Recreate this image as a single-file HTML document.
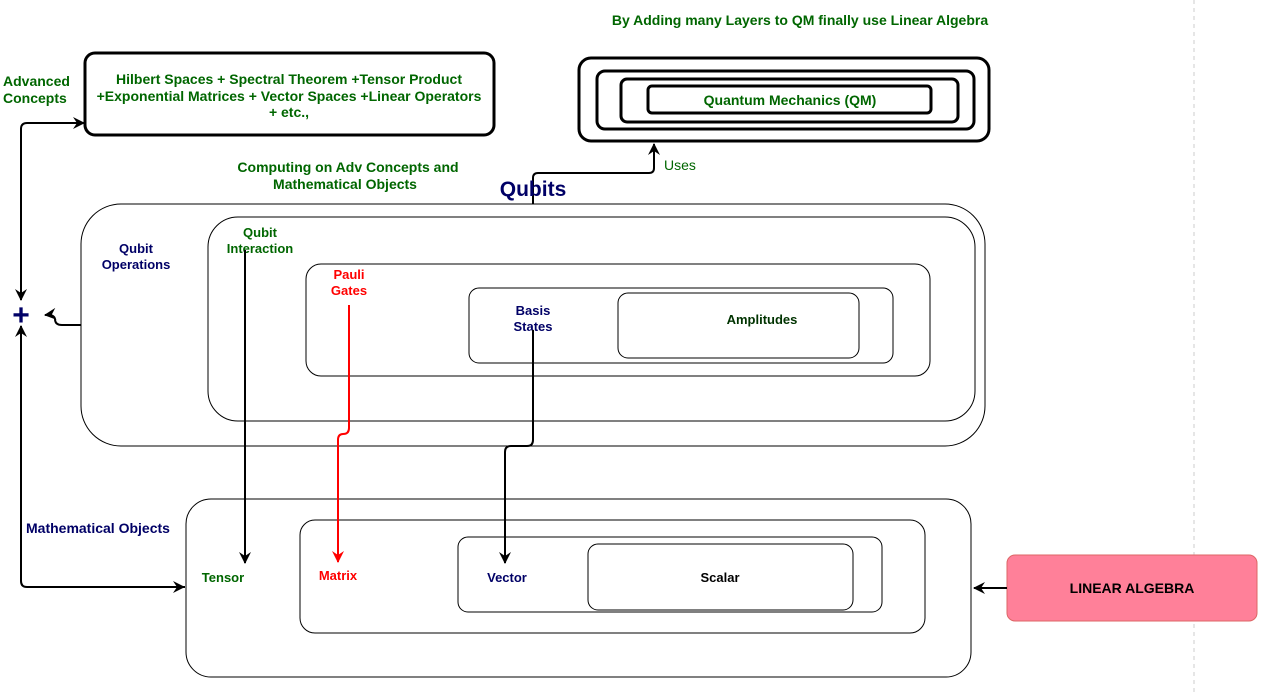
<!DOCTYPE html>
<html><head><meta charset="utf-8"><style>html,body{margin:0;padding:0;background:#fff;}svg{display:block;}</style></head>
<body>
<svg width="1264" height="696" viewBox="0 0 1264 696" xmlns="http://www.w3.org/2000/svg" font-family="Liberation Sans, sans-serif" font-weight="bold">
<defs>
<marker id="a" markerWidth="14" markerHeight="14" refX="11" refY="7" orient="auto" markerUnits="userSpaceOnUse"><path d="M0,1 L12,7 L0,13 L4,7 z" fill="#000"/></marker>
<marker id="r" markerWidth="14" markerHeight="14" refX="11" refY="7" orient="auto" markerUnits="userSpaceOnUse"><path d="M0,1 L12,7 L0,13 L4,7 z" fill="#f00"/></marker>
</defs>
<line x1="1194" y1="0" x2="1194" y2="696" stroke="#ccc" stroke-dasharray="4,4"/>
<text x="800" y="25" fill="#006600" font-size="14" text-anchor="middle">By Adding many Layers to QM finally use Linear Algebra</text>
<rect x="85" y="53" width="409" height="82" rx="10" fill="none" stroke="#000" stroke-width="3"/>
<g fill="#006600" font-size="14" text-anchor="middle"><text x="289" y="84">Hilbert Spaces + Spectral Theorem +Tensor Product</text><text x="289" y="101">+Exponential Matrices + Vector Spaces +Linear Operators</text><text x="289" y="117">+ etc.,</text></g>
<g fill="#006600" font-size="14"><text x="3" y="86">Advanced</text><text x="3" y="103">Concepts</text></g>
<rect x="579" y="58" width="410" height="83" rx="12" fill="none" stroke="#000" stroke-width="3"/>
<rect x="597" y="71" width="377" height="58" rx="8" fill="none" stroke="#000" stroke-width="3"/>
<rect x="621" y="79" width="337" height="43" rx="6" fill="none" stroke="#000" stroke-width="3"/>
<rect x="648" y="86" width="283" height="27" rx="4" fill="none" stroke="#000" stroke-width="3"/>
<text x="790" y="105" fill="#006600" font-size="14" text-anchor="middle">Quantum Mechanics (QM)</text>
<path d="M533,204 V178 Q533,173 538,173 H649 Q654,173 654,168 V144" fill="none" stroke="#000" stroke-width="2" marker-end="url(#a)"/>
<text x="664" y="170" fill="#006600" font-size="14" font-weight="normal">Uses</text>
<g fill="#006600" font-size="14" text-anchor="middle"><text x="348" y="172">Computing on Adv Concepts and</text><text x="345" y="189">Mathematical Objects</text></g>
<text x="533" y="196" fill="#000066" font-size="21" text-anchor="middle">Qubits</text>
<rect x="81" y="204" width="904" height="242" rx="40" fill="none" stroke="#000"/>
<rect x="208" y="217" width="767" height="204" rx="30" fill="none" stroke="#000"/>
<rect x="306" y="264" width="624" height="112" rx="15" fill="none" stroke="#000"/>
<rect x="469" y="288" width="424" height="75" rx="10" fill="none" stroke="#000"/>
<rect x="618" y="293" width="241" height="65" rx="10" fill="none" stroke="#000"/>
<g font-size="13" text-anchor="middle">
<text x="136" y="253" fill="#000066">Qubit</text><text x="136" y="269" fill="#000066">Operations</text>
<text x="260" y="237" fill="#006600">Qubit</text><text x="260" y="253" fill="#006600">Interaction</text>
<text x="349" y="279" fill="#f00">Pauli</text><text x="349" y="295" fill="#f00">Gates</text>
<text x="533" y="315" fill="#000066">Basis</text><text x="533" y="331" fill="#000066">States</text>
<text x="762" y="324" fill="#003300">Amplitudes</text>
</g>
<rect x="186" y="499" width="785" height="178" rx="25" fill="none" stroke="#000"/>
<rect x="300" y="520" width="625" height="113" rx="15" fill="none" stroke="#000"/>
<rect x="458" y="537" width="424" height="75" rx="10" fill="none" stroke="#000"/>
<rect x="588" y="544" width="265" height="66" rx="10" fill="none" stroke="#000"/>
<text x="26" y="533" fill="#000066" font-size="14">Mathematical Objects</text>
<g font-size="13" text-anchor="middle">
<text x="223" y="582" fill="#006600">Tensor</text>
<text x="338" y="580" fill="#f00">Matrix</text>
<text x="507" y="582" fill="#000066">Vector</text>
<text x="720" y="582" fill="#000">Scalar</text>
</g>
<rect x="1007" y="555" width="250" height="66" rx="8" fill="#FF8099" stroke="#d66"/>
<text x="1132" y="593" font-size="14" text-anchor="middle" fill="#000">LINEAR ALGEBRA</text>
<line x1="1007" y1="588" x2="974" y2="588" stroke="#000" stroke-width="2" marker-end="url(#a)"/>
<line x1="245" y1="250" x2="245" y2="563" stroke="#000" stroke-width="2" marker-end="url(#a)"/>
<path d="M349,305 V428 Q349,434 343,434 Q338,434 338,440 V562" fill="none" stroke="#f00" stroke-width="2" marker-end="url(#r)"/>
<path d="M533,330 V440 Q533,446 527,446 H511 Q505,446 505,452 V563" fill="none" stroke="#000" stroke-width="2" marker-end="url(#a)"/>
<path d="M85,123 H27 Q21,123 21,129 V300" fill="none" stroke="#000" stroke-width="2" marker-end="url(#a)"/>
<path d="M30,123 H84" fill="none" stroke="#000" stroke-width="2" marker-end="url(#a)"/>
<path d="M185,587 H27 Q21,587 21,581 V326" fill="none" stroke="#000" stroke-width="2" marker-end="url(#a)"/>
<path d="M30,587 H184" fill="none" stroke="#000" stroke-width="2" marker-end="url(#a)"/>
<path d="M81,325 H62 Q55,325 55,319 Q54,314 45,315" fill="none" stroke="#000" stroke-width="2" marker-end="url(#a)"/>
<text x="21" y="325" fill="#000066" font-size="30" text-anchor="middle">+</text>
</svg>
</body></html>
